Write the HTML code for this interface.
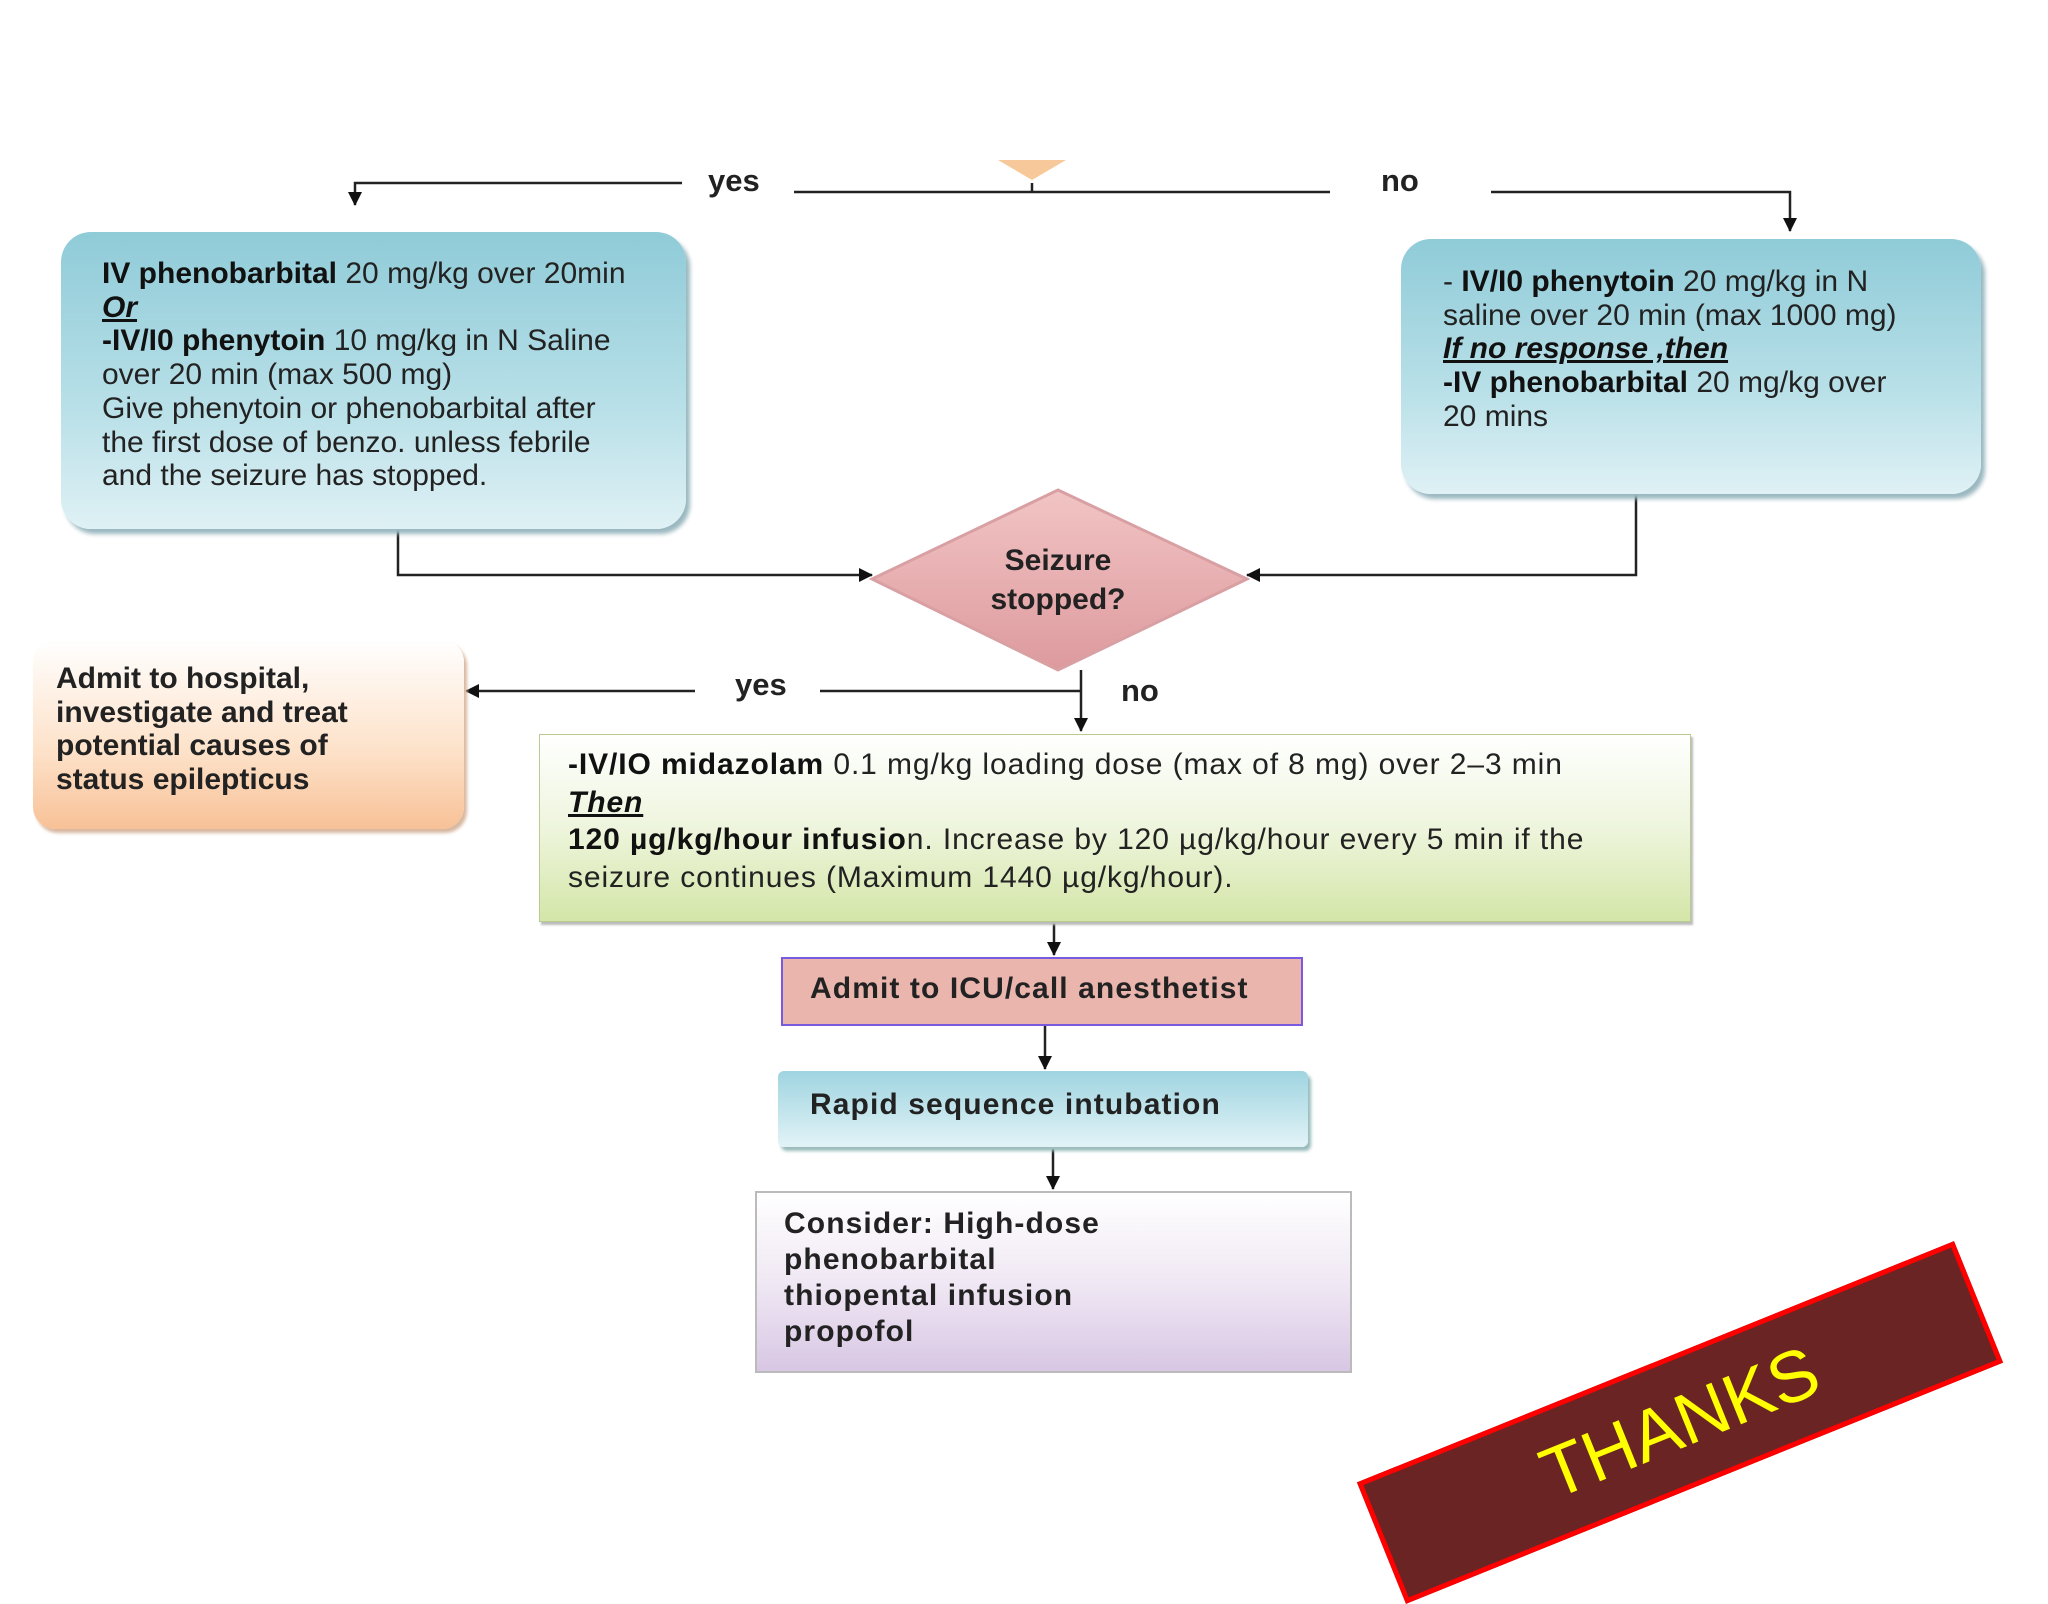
<!DOCTYPE html>
<html><head><meta charset="utf-8"><style>
body{margin:0;width:2048px;height:1536px;background:#fff;position:relative;overflow:hidden;font-family:"Liberation Sans",sans-serif;color:#222}
.a{position:absolute}
.t{position:absolute;font-size:27px;line-height:33.7px;white-space:nowrap}
.blue{border-radius:30px;background:linear-gradient(180deg,#8fcbd8 0%,#b9e0e8 60%,#dff1f5 100%);box-shadow:4px 5px 4px #9bb8c0}
b{font-weight:bold;color:#111}
</style></head><body>
<svg class="a" style="left:0;top:0" width="2048" height="1536">
<defs><marker id="ar" markerWidth="14" markerHeight="14" refX="13" refY="7" orient="auto" markerUnits="userSpaceOnUse"><path d="M0,0 L14,7 L0,14z" fill="#111"/></marker></defs>
<g stroke="#222" stroke-width="2.5" fill="none">
<path d="M682,183 H355 V205" marker-end="url(#ar)"/>
<path d="M794,192 H1330"/><path d="M1032,183 V192"/>
<path d="M1491,192 H1790 V231" marker-end="url(#ar)"/>
<path d="M398,529 V575 H872" marker-end="url(#ar)"/>
<path d="M1636,494 V575 H1247" marker-end="url(#ar)"/>
<path d="M695,691 H466" marker-end="url(#ar)"/>
<path d="M820,691 H1081"/><path d="M1081,670 V731" marker-end="url(#ar)"/>
<path d="M1054,922 V955" marker-end="url(#ar)"/>
<path d="M1045,1025 V1069" marker-end="url(#ar)"/>
<path d="M1053,1149 V1189" marker-end="url(#ar)"/>
</g>
<path d="M998,160 L1066,160 L1032,180z" fill="#f7c89a"/>
<defs><linearGradient id="dg" x1="0" y1="0" x2="0" y2="1"><stop offset="0" stop-color="#f2c4c4"/><stop offset="1" stop-color="#dd9a9e"/></linearGradient></defs>
<path d="M1058,490 L1247,579 L1058,670 L872,579z" fill="url(#dg)" stroke="#d9a0a4" stroke-width="3"/>
</svg>
<div class="a blue" style="left:61px;top:232px;width:625px;height:297px"></div>
<div class="a blue" style="left:1401px;top:239px;width:580px;height:255px"></div>
<div class="a" style="left:33px;top:640px;width:431px;height:189px;border-radius:22px;background:linear-gradient(180deg,#fff 0%,#fde1c8 60%,#f8c197 100%);box-shadow:3px 4px 3px #d8b8a0"></div>
<div class="a" style="left:539px;top:734px;width:1150px;height:186px;border:1.5px solid #b8cc90;background:linear-gradient(180deg,#fff 0%,#eef5dd 50%,#d4e6a8 100%);box-shadow:2px 3px 2px #bbb"></div>
<div class="a" style="left:781px;top:957px;width:518px;height:65px;border:2.5px solid #7a5adf;background:#e9b5ad"></div>
<div class="a" style="left:778px;top:1071px;width:530px;height:76px;border-radius:6px;background:linear-gradient(180deg,#9fd4e0,#e2f3f7);box-shadow:3px 4px 3px #9bb"></div>
<div class="a" style="left:755px;top:1191px;width:593px;height:178px;border:2px solid #bbb;background:linear-gradient(180deg,#fff 0%,#f0e8f4 50%,#d8c7e4 100%)"></div>

<div class="t" style="left:708px;top:164px;font-size:31px;font-weight:bold">yes</div>
<div class="t" style="left:1381px;top:164px;font-size:31px;font-weight:bold">no</div>
<div class="t" style="left:735px;top:668px;font-size:31px;font-weight:bold">yes</div>
<div class="t" style="left:1121px;top:674px;font-size:31px;font-weight:bold">no</div>

<div class="t" style="left:102px;top:257px;font-size:30px"><b>IV phenobarbital</b> 20 mg/kg over 20min<br><b><i><u>Or</u></i></b><br><b>-IV/I0 phenytoin</b> 10 mg/kg in N Saline<br>over 20 min (max 500 mg)<br>Give phenytoin or phenobarbital after<br>the first dose of benzo. unless febrile<br>and the seizure has stopped.</div>
<div class="t" style="left:1443px;top:265px;font-size:30px">- <b>IV/I0 phenytoin</b> 20 mg/kg in N<br>saline over 20 min (max 1000 mg)<br><b><i><u>If no response ,then</u></i></b><br><b>-IV phenobarbital</b> 20 mg/kg over<br>20 mins</div>
<div class="t" style="left:988px;top:541px;width:140px;text-align:center;font-weight:bold;font-size:30px;line-height:39px">Seizure<br>stopped?</div>
<div class="t" style="left:56px;top:662px;font-weight:bold;font-size:30px">Admit to hospital,<br>investigate and treat<br>potential causes of<br>status epilepticus</div>
<div class="t" style="left:568px;top:746px;line-height:37.5px;font-size:30px;letter-spacing:0.9px"><b>-IV/IO midazolam</b> 0.1 mg/kg loading dose (max of 8 mg) over 2–3 min<br><b><i><u>Then</u></i></b><br><b>120 µg/kg/hour infusio</b>n. Increase by 120 µg/kg/hour every 5 min if the<br>seizure continues (Maximum 1440 µg/kg/hour).</div>
<div class="t" style="left:810px;top:972px;font-weight:bold;font-size:30px;letter-spacing:1.1px">Admit to ICU/call anesthetist</div>
<div class="t" style="left:810px;top:1088px;font-weight:bold;font-size:30px;letter-spacing:1.1px">Rapid sequence intubation</div>
<div class="t" style="left:784px;top:1206px;font-weight:bold;line-height:36px;font-size:30px;letter-spacing:1.1px">Consider: High-dose<br>phenobarbital<br>thiopental infusion<br>propofol</div>

<div class="a" style="left:1358px;top:1357px;width:644px;height:131px;transform:rotate(-22deg);background:#6b2424;border:5px solid #f00;box-sizing:border-box;display:flex;align-items:center;justify-content:center;color:#ff0;font-size:72px">THANKS</div>
</body></html>
